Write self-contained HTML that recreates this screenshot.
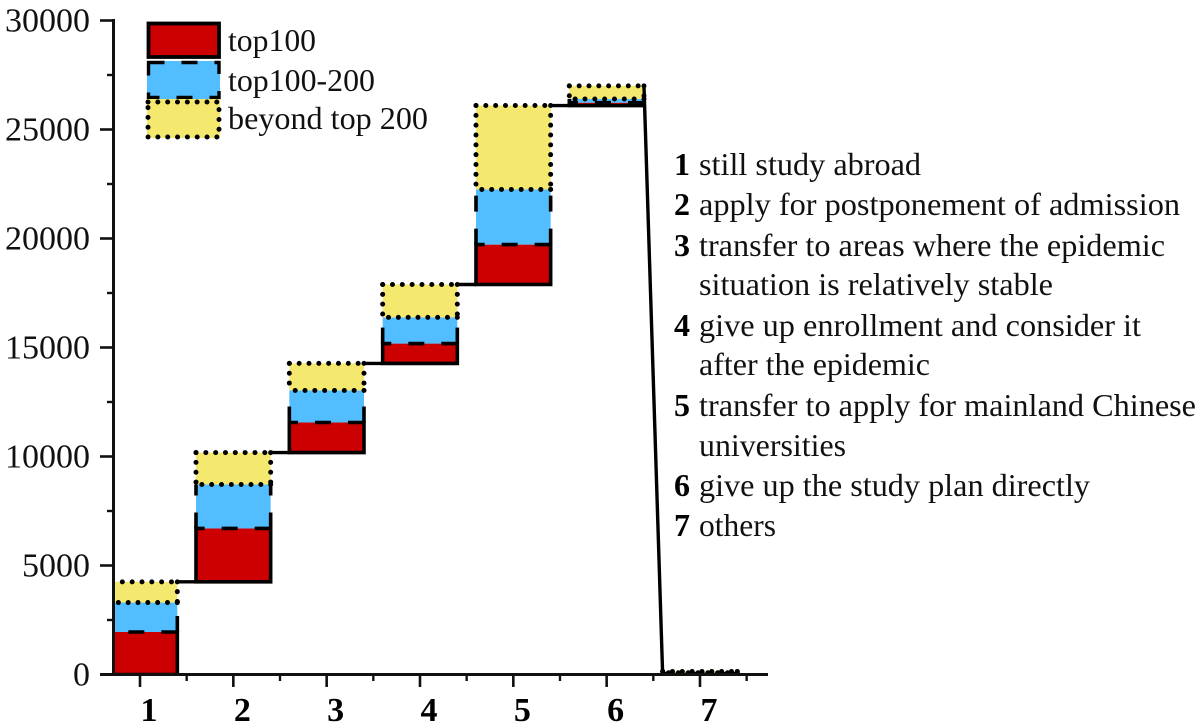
<!DOCTYPE html>
<html lang="en">
<head>
<meta charset="utf-8">
<title>Stacked step chart</title>
<style>
html,body{margin:0;padding:0;background:#fff;width:1200px;height:728px;overflow:hidden}
svg{display:block}
text{font-family:"Liberation Serif",serif;fill:#111}
.b{font-weight:bold;fill:#000}
</style>
</head>
<body>
<svg id="chart" xmlns="http://www.w3.org/2000/svg" width="1200" height="728" viewBox="0 0 1200 728">
  <defs><clipPath id="plot-clip"><rect x="113" y="0" width="700" height="676"/></clipPath></defs>
  <g id="bars" clip-path="url(#plot-clip)"></g>
  <g id="axes"></g>

  <g>
    <g>
      <rect x="148.5" y="23.5" width="70.5" height="33.5" fill="#CC0000" stroke="#000" stroke-width="3.8"/>
      <text x="228" y="51" font-size="32" textLength="88" lengthAdjust="spacingAndGlyphs">top100</text>
    </g>
    <g>
      <rect x="147" y="61" width="73" height="38" fill="#52BDFF"/>
      <rect x="148.5" y="62.5" width="70.5" height="35" fill="none" stroke="#000" stroke-width="3.4" stroke-dasharray="16 17"/>
      <text x="228" y="91" font-size="32" textLength="147" lengthAdjust="spacingAndGlyphs">top100-200</text>
    </g>
    <g>
      <rect x="147" y="99" width="73" height="39" fill="#F4E96E"/>
      <rect x="148" y="102" width="71" height="35" fill="none" stroke="#000" stroke-width="5" stroke-linecap="round" stroke-dasharray="0 9.83"/>
      <text x="228" y="129" font-size="32" textLength="200" lengthAdjust="spacingAndGlyphs">beyond top 200</text>
    </g>
  </g>

  <g font-size="32">
    <text class="b" x="674" y="175">1</text>
    <text x="699" y="175" textLength="222" lengthAdjust="spacingAndGlyphs">still study abroad</text>
    <text class="b" x="674" y="215">2</text>
    <text x="699" y="215" textLength="481" lengthAdjust="spacingAndGlyphs">apply for postponement of admission</text>
    <text class="b" x="674" y="256">3</text>
    <text x="699" y="256" textLength="466" lengthAdjust="spacingAndGlyphs">transfer to areas where the epidemic</text>
    <text x="699" y="295" textLength="354" lengthAdjust="spacingAndGlyphs">situation is relatively stable</text>
    <text class="b" x="674" y="336">4</text>
    <text x="699" y="336" textLength="442" lengthAdjust="spacingAndGlyphs">give up enrollment and consider it</text>
    <text x="699" y="375" textLength="231" lengthAdjust="spacingAndGlyphs">after the epidemic</text>
    <text class="b" x="674" y="416">5</text>
    <text x="699" y="416" textLength="497" lengthAdjust="spacingAndGlyphs">transfer to apply for mainland Chinese</text>
    <text x="699" y="456" textLength="147" lengthAdjust="spacingAndGlyphs">universities</text>
    <text class="b" x="674" y="496">6</text>
    <text x="699" y="496" textLength="391" lengthAdjust="spacingAndGlyphs">give up the study plan directly</text>
    <text class="b" x="674" y="536">7</text>
    <text x="699" y="536" textLength="77" lengthAdjust="spacingAndGlyphs">others</text>
  </g>
</svg>
<script>
const categories = ["1", "2", "3", "4", "5", "6", "7"];
const floatBase = [0, 4250, 10180, 14270, 17890, 26100, 0];
const top100 = [1950, 2450, 1380, 910, 1830, 130, 40];
const top100to200 = [1350, 2015, 1470, 1200, 2530, 170, 40];
const beyondTop200 = [950, 1465, 1240, 1510, 3850, 600, 60];
const yMajorTicks = [0, 5000, 10000, 15000, 20000, 25000, 30000];
const yMinorTicks = [2500, 7500, 12500, 17500, 22500, 27500];

const NS = "http://www.w3.org/2000/svg";
const barsG = document.getElementById("bars");
const axesG = document.getElementById("axes");
const xScale = pos => 140 + (pos - 1) * 93.33;
const yScale = v => 674.5 - v * 0.0218;
const halfBar = 37.33;

function mk(tag, parent, attrs) {
  const el = document.createElementNS(NS, tag);
  for (const k in attrs) el.setAttribute(k, attrs[k]);
  parent.appendChild(el);
  return el;
}
function linePath(d, extra) {
  return Object.assign({ d: d, fill: "none", stroke: "#000" }, extra);
}
const dashStyle = { "stroke-width": 3.6, "stroke-dasharray": "16 17" };
const dotStyle = { "stroke-width": 5, "stroke-linecap": "round", "stroke-dasharray": "0 9.83" };
const solidStyle = { "stroke-width": 3.6, "stroke-linejoin": "miter", "stroke-linecap": "square" };

categories.forEach((cat, i) => {
  const l = xScale(i + 1) - halfBar;
  const r = xScale(i + 1) + halfBar;
  const y0 = yScale(floatBase[i]);
  const y1 = yScale(floatBase[i] + top100[i]);
  const y2 = yScale(floatBase[i] + top100[i] + top100to200[i]);
  const y3 = yScale(floatBase[i] + top100[i] + top100to200[i] + beyondTop200[i]);

  const redFill = mk("rect", barsG, { x: l, y: y1, width: r - l, height: y0 - y1, fill: "#CC0000" });
  
  

  const blueFill = mk("rect", barsG, { x: l, y: y2, width: r - l, height: y1 - y2, fill: "#52BDFF" });
  
  

  const yellowFill = mk("rect", barsG, { x: l, y: y3, width: r - l, height: y2 - y3, fill: "#F4E96E" });
  
  

  const redOutline = mk("path", barsG, linePath(`M${l} ${y1}L${l} ${y0}L${r} ${y0}L${r} ${y1}`, solidStyle));
  
  

  const blueBottom = mk("path", barsG, linePath(`M${r} ${y1}L${l} ${y1}`, dashStyle));
  
  

  const blueLeft = mk("path", barsG, linePath(`M${l} ${y1}L${l} ${y2}`, dashStyle));
  
  

  const blueRight = mk("path", barsG, linePath(`M${r} ${y1}L${r} ${y2}`, dashStyle));
  
  

  const yellowTop = mk("path", barsG, linePath(`M${l} ${y3}L${r} ${y3}`, dotStyle));
  
  

  const yellowLeft = mk("path", barsG, linePath(`M${l} ${y3}L${l} ${y2}`, dotStyle));
  
  

  const yellowRight = mk("path", barsG, linePath(`M${r} ${y3}L${r} ${y2}`, dotStyle));
  
  

  const yellowBottom = mk("path", barsG, linePath(`M${r} ${y2}L${l} ${y2}`, dotStyle));
  
  

  if (i < categories.length - 1) {
    const nl = xScale(i + 2) - halfBar;
    const ny = yScale(floatBase[i + 1]);
    const conn = mk("line", barsG, { x1: r, y1: y3, x2: nl, y2: ny, stroke: "#000", "stroke-width": 3.4 });
    
    
  }
});

const yAxisLine = mk("line", axesG, { x1: 113.5, y1: 19, x2: 113.5, y2: 675, stroke: "#111", "stroke-width": 3 });



const xAxisLine = mk("line", axesG, { x1: 100, y1: 674.5, x2: 768, y2: 674.5, stroke: "#111", "stroke-width": 3 });



yMajorTicks.forEach(v => {
  const t = mk("line", axesG, { x1: 100, y1: yScale(v), x2: 114, y2: yScale(v), stroke: "#111", "stroke-width": 2.6 });
  
  
  const label = mk("text", axesG, { x: 90, y: yScale(v) + 11, "font-size": 34, "text-anchor": "end" });
  label.textContent = String(v);
  
  
});
yMinorTicks.forEach(v => {
  const t = mk("line", axesG, { x1: 107, y1: yScale(v), x2: 114, y2: yScale(v), stroke: "#111", "stroke-width": 2.4 });
  
  
});
categories.forEach((cat, i) => {
  const x = xScale(i + 1);
  const t = mk("line", axesG, { x1: x, y1: 674, x2: x, y2: 687, stroke: "#111", "stroke-width": 2.6 });
  
  
  const m = mk("line", axesG, { x1: x + 46.67, y1: 674, x2: x + 46.67, y2: 681, stroke: "#111", "stroke-width": 2.4 });
  
  
  const label = mk("text", axesG, { x: x + 9, y: 721, "font-size": 34, "text-anchor": "middle", class: "b" });
  label.textContent = cat;
  
  
});
</script>
</body>
</html>
